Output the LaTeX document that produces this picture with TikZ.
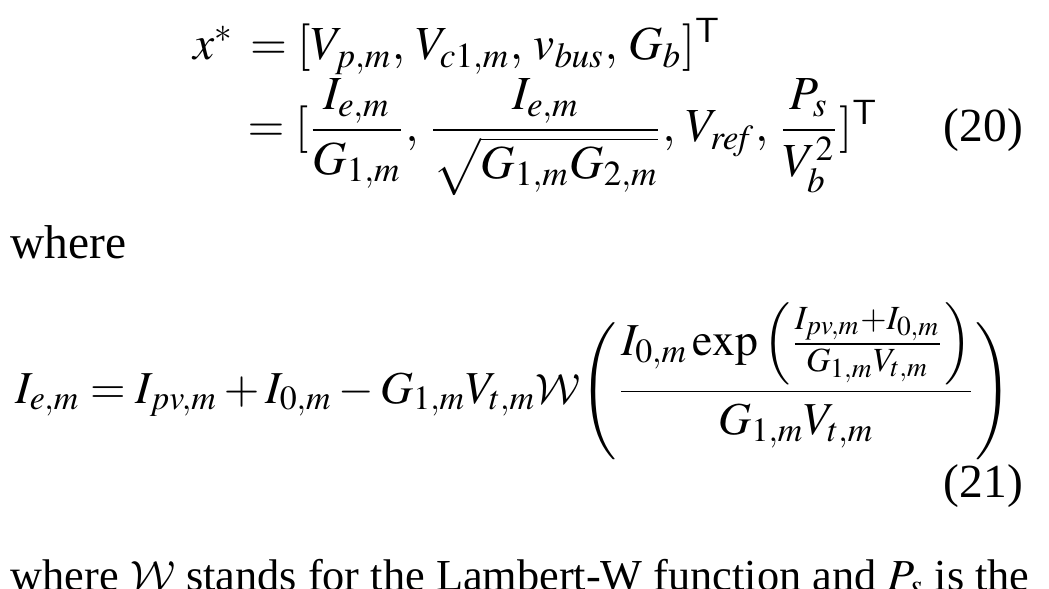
\documentclass[tikz,border=0pt]{standalone}
\usepackage{amsmath}
\usepackage{mathptmx}
\DeclareMathAlphabet{\mathcal}{OMS}{cmsy}{m}{n}
\usepackage{fontspec}
\setmainfont{Liberation Serif}
\begin{document}
\begin{tikzpicture}[x=0.01cm,y=-0.01cm,
  txt/.style={anchor=base west,inner sep=0pt,font=\fontsize{13.5}{16}\selectfont}]
\useasboundingbox (0,0) rectangle (1049,588);
\node[txt] (r1) at (193,60) {$x^* \,= [V_{p,m},\, V_{c1,m},\, v_{bus},\, G_b]^{\mathsf{T}}$};
\node[txt] (r2) at (247,142) {$= [\dfrac{I_{e,m}}{G_{1,m}},\, \dfrac{I_{e,m}}{\sqrt{G_{1,m}G_{2,m}}},\, V_{\mathit{ref}},\, \dfrac{P_s}{V_b^2}]^{\mathsf{T}}$};
\node[txt] (n20) at (943,142) {(20)};
\node[txt] (w1) at (10,258) {where};
\node[txt,font=\fontsize{13}{16}\selectfont] (e21) at (15,403) {$I_{e,m} = I_{pv,m} + I_{0,m} - G_{1,m}V_{t,m}\mathcal{W}\Biggl(\dfrac{I_{0,m}\exp\left(\frac{I_{pv,m}+I_{0,m}}{G_{1,m}V_{t,m}}\right)}{G_{1,m}V_{t,m}}\Biggr)$};
\node[txt] (n21) at (943,497) {(21)};
\node[txt,font=\fontsize{12.6}{16}\selectfont] (w2) at (10,590) {where $\mathcal{W}$ stands for the Lambert-W function and $P_s$ is the};
\end{tikzpicture}
\end{document}
